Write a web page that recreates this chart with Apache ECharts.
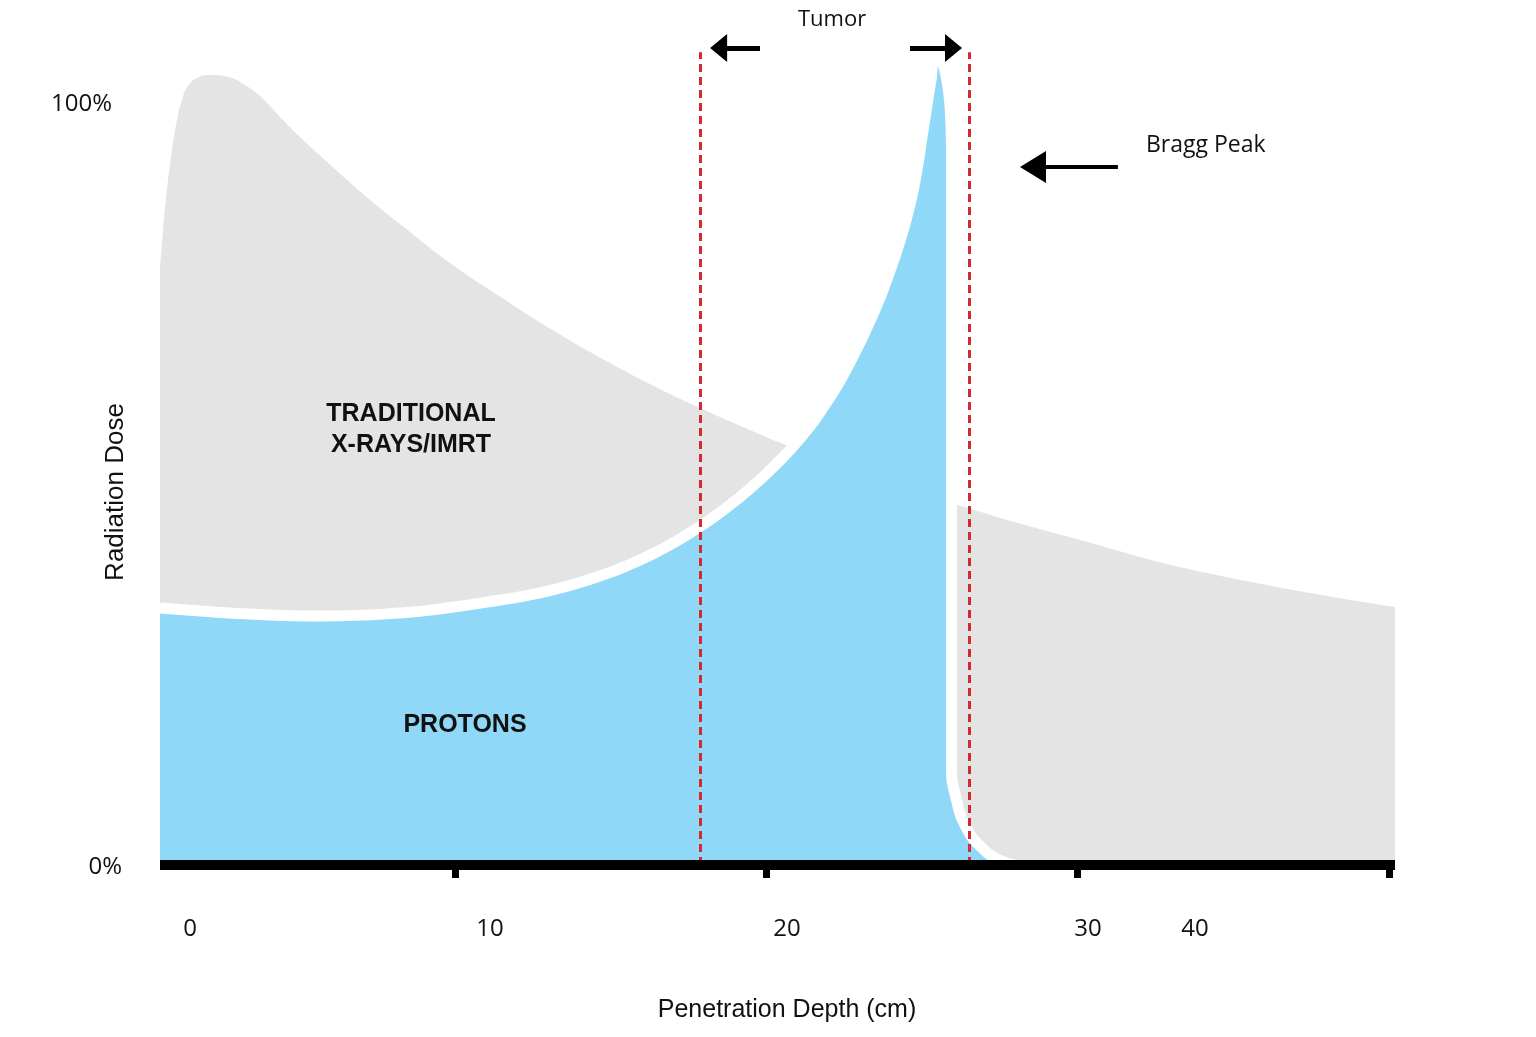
<!DOCTYPE html>
<html>
<head>
<meta charset="utf-8">
<title>Protons vs X-rays</title>
<script src="https://cdn.jsdelivr.net/npm/echarts@6/dist/echarts.min.js"></script>
<style>
  html, body { margin: 0; padding: 0; background: #fff; }
  #chart { width: 1536px; height: 1037px; }
</style>
</head>
<body>
<div id="chart"></div>
<script>
// depth in cm, dose in % of max
const xrayDepth = [-1.0, -0.9, -0.767, -0.6, -0.433, -0.267, -0.067, 0.233, 0.667, 1.267, 1.833, 2.4, 3.0, 3.667, 4.5, 5.333, 6.167, 7.0, 8.667, 10.333, 12.0, 13.667, 15.333, 17.0, 18.667, 19.733, 22.0, 25.6, 29.433, 33.9, 40.167];
const xrayDose  = [78.19, 83.44, 88.70, 93.96, 97.90, 100.53, 102.37, 103.42, 103.81, 103.55, 102.50, 100.79, 98.29, 95.66, 92.64, 89.68, 86.86, 84.23, 79.11, 74.70, 70.50, 66.69, 63.21, 60.05, 57.16, 55.39, 52.04, 47.31, 42.97, 38.37, 33.90];

const protonDepth = [-1.0, 0.333, 2.0, 4.333, 7.0, 8.667, 10.333, 11.167, 12.0, 12.833, 13.667, 14.5, 15.333, 16.167, 17.0, 17.833, 18.667, 19.5, 20.333, 21.167, 22.0, 22.833, 23.333, 23.667, 24.0, 24.233, 24.4, 24.567, 24.7, 24.833, 25.033, 25.2, 25.333, 25.383, 25.383, 25.55, 25.867, 26.367, 26.967, 27.5];
const protonDose  = [33.77, 33.38, 32.98, 32.72, 33.11, 33.84, 34.82, 35.38, 36.07, 36.93, 37.98, 39.22, 40.70, 42.44, 44.48, 46.81, 49.47, 52.53, 56.04, 60.48, 66.06, 72.96, 78.09, 82.03, 86.76, 91.36, 95.63, 99.90, 103.15, 106.44, 105.78, 103.7, 99.87, 93.96, 12.88, 8.54, 4.99, 2.37, 0.66, 0];

const tickPos = [8.83, 19.2, 29.57, 39.97];
const tickLabelPos = [0, 10, 19.9, 29.93, 33.5];
const tickLabels = ['0', '10', '20', '30', '40'];
const doseLabelPos = [0, 100];
const doseLabels = ['0%', '100%'];

const tumorStart = 17.0;
const tumorEnd = 25.97;

const chart = echarts.init(document.getElementById('chart'));

function zip(xs, ys) {
  return xs.map((x, i) => [x, ys[i]]);
}

const option = {
  animation: false,
  grid: { left: 160, right: 141, top: 28, bottom: 172, outerBoundsMode: 'none' },
  xAxis: {
    type: 'value',
    min: -1,
    max: 40.1667,
    z: 10,
    axisLine: { show: true, lineStyle: { color: '#000', width: 10, cap: 'butt' } },
    axisTick: { show: true, customValues: tickPos, length: 13, lineStyle: { color: '#000', width: 7, cap: 'butt' } },
    axisLabel: {
      customValues: tickLabelPos,
      margin: 52,
      fontFamily: 'Open Sans',
      fontSize: 24,
      color: '#111',
      formatter: v => tickLabels[tickLabelPos.indexOf(v)]
    },
    splitLine: { show: false },
    name: 'Penetration Depth (cm)',
    nameLocation: 'middle',
    nameGap: 133,
    nameMoveOverlap: false,
    nameTextStyle: { fontFamily: 'Liberation Sans', fontSize: 25, color: '#111', padding: [0, 0, 0, 19] }
  },
  yAxis: {
    type: 'value',
    min: 0,
    max: 110,
    axisLine: { show: false },
    axisTick: { show: false },
    splitLine: { show: false },
    axisLabel: {
      customValues: doseLabelPos,
      margin: 38,
      formatter: v => v === 100 ? '{b|' + doseLabels[1] + '}' : '{a|' + doseLabels[0] + '}',
      rich: {
        a: { fontFamily: 'Open Sans', fontSize: 24, color: '#111', padding: [4, 0, 0, 0] },
        b: { fontFamily: 'Open Sans', fontSize: 24, color: '#111', padding: [0, 10, 0, 0] }
      }
    },
    name: 'Radiation Dose',
    nameLocation: 'middle',
    nameRotate: 90,
    nameGap: 31,
    nameMoveOverlap: false,
    nameTextStyle: { fontFamily: 'Liberation Sans', fontSize: 26, color: '#111', padding: [0, 91, 0, 0] }
  },
  series: [
    {
      name: 'Traditional X-rays/IMRT',
      type: 'line',
      data: zip(xrayDepth, xrayDose),
      smooth: 0.5,
      showSymbol: false,
      silent: true,
      lineStyle: { width: 0, opacity: 0 },
      areaStyle: { color: '#e4e4e4', opacity: 1 }
    },
    {
      name: 'Protons',
      type: 'line',
      data: zip(protonDepth, protonDose),
      smooth: 0.5,
      showSymbol: false,
      silent: true,
      lineStyle: { color: '#fff', width: 11 },
      areaStyle: { color: '#8fd8f7', opacity: 1 },
      markLine: {
        silent: true,
        symbol: 'none',
        label: { show: false },
        lineStyle: { color: '#d7282f', width: 3, type: [8, 5] },
        data: [
          [{ coord: [tumorStart, 0] }, { coord: [tumorStart, 106.8] }],
          [{ coord: [tumorEnd, 0] }, { coord: [tumorEnd, 106.8] }],
          [
            { coord: [19.0, 107.36], symbol: 'none', lineStyle: { color: '#000', width: 5, type: 'solid' } },
            { coord: [17.62, 107.36], symbol: 'triangle', symbolSize: [28, 17] }
          ],
          [
            { coord: [24.0, 107.36], symbol: 'none', lineStyle: { color: '#000', width: 5, type: 'solid' } },
            { coord: [25.45, 107.36], symbol: 'triangle', symbolSize: [28, 17] }
          ],
          [
            { coord: [30.93, 91.72], symbol: 'none', lineStyle: { color: '#000', width: 4, type: 'solid' } },
            { coord: [28.1, 91.72], symbol: 'triangle', symbolSize: [32, 26] }
          ]
        ]
      }
    }
  ],
  graphic: [
    { type: 'text', z: 100, left: 798, top: 9, style: { text: 'Tumor', font: '22px "Open Sans"', fill: '#111' } },
    { type: 'text', z: 100, left: 1146, top: 134, style: { text: 'Bragg Peak', font: '23px "Open Sans"', fill: '#111' } },
    {
      type: 'text', z: 100, x: 411, y: 430,
      style: {
        text: 'TRADITIONAL\nX-RAYS/IMRT', font: 'bold 25px "Liberation Sans"', fill: '#111',
        align: 'center', verticalAlign: 'middle', lineHeight: 31
      }
    },
    {
      type: 'text', z: 100, x: 465, y: 725,
      style: { text: 'PROTONS', font: 'bold 25px "Liberation Sans"', fill: '#111', align: 'center', verticalAlign: 'middle' }
    }
  ]
};

chart.setOption(option);
</script>
</body>
</html>
